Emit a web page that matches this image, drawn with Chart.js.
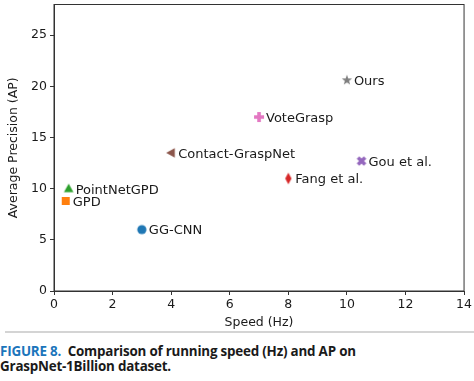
<!DOCTYPE html>
<html>
<head>
<meta charset="utf-8">
<script src="https://cdn.jsdelivr.net/npm/chart.js@4.4.1/dist/chart.umd.min.js"></script>
<style>
  body { margin: 0; background: #fff; width: 474px; height: 381px; overflow: hidden; position: relative; }
  #wrap { position: absolute; left: 0; top: -6px; width: 474px; height: 336px; }
  #sep { position: absolute; left: 5px; top: 331px; width: 469px; height: 2px; background: #d4d4d4; }
  #caption { position: absolute; left: 0; top: 344px; font-family: "Open Sans", sans-serif; font-weight: bold;
             font-size: 13.4px; line-height: 15px; color: #1a1a1a; letter-spacing: -0.2px; }
  #caption .fig { color: #1b75bb; }
</style>
</head>
<body>
<div id="wrap"><canvas id="apChart"></canvas></div>
<div id="sep"></div>
<div id="caption"><span class="fig">FIGURE 8.</span>&nbsp; Comparison of running speed (Hz) and AP on<br>GraspNet-1Billion dataset.</div>
<script>
// Data
const methods = ['GG-CNN', 'GPD', 'PointNetGPD', 'Contact-GraspNet', 'VoteGrasp', 'Ours', 'Gou et al.', 'Fang et al.'];
const speeds = [3.0, 0.4, 0.5, 4.0, 7.0, 10.0, 10.5, 8.0];
const aps = [6.0, 8.8, 10.0, 13.5, 17.0, 20.6, 12.7, 11.0];
const colors = ['#1f77b4', '#ff7f0e', '#2ca02c', '#8c564b', '#e377c2', '#7f7f7f', '#9467bd', '#d62728'];
const shapes = ['circle', 'square', 'triUp', 'triLeft', 'plus', 'star', 'x', 'thinDiamond'];

// Build matplotlib-like filled markers as small canvases
function makeMarker(shape, color) {
    const c = document.createElement('canvas');
    c.width = 14; c.height = 14;
    const g = c.getContext('2d');
    g.translate(7, 7);
    g.fillStyle = color;
    g.beginPath();
    if (shape === 'circle') {
        g.arc(0, 0, 4.6, 0, Math.PI * 2);
    } else if (shape === 'square') {
        g.rect(-4, -4, 8, 8);
    } else if (shape === 'triUp') {
        g.moveTo(0, -5); g.lineTo(4.8, 3.6); g.lineTo(-4.8, 3.6);
    } else if (shape === 'triLeft') {
        g.moveTo(-5, 0); g.lineTo(3.6, -4.8); g.lineTo(3.6, 4.8);
    } else if (shape === 'thinDiamond') {
        g.moveTo(0, -5.8); g.lineTo(3.2, 0); g.lineTo(0, 5.8); g.lineTo(-3.2, 0);
    } else if (shape === 'plus' || shape === 'x') {
        if (shape === 'x') g.rotate(Math.PI / 4);
        const a = 1.8, l = 5;
        g.moveTo(-a, -l); g.lineTo(a, -l); g.lineTo(a, -a); g.lineTo(l, -a); g.lineTo(l, a);
        g.lineTo(a, a); g.lineTo(a, l); g.lineTo(-a, l); g.lineTo(-a, a); g.lineTo(-l, a);
        g.lineTo(-l, -a); g.lineTo(-a, -a);
    } else if (shape === 'star') {
        for (let i = 0; i < 10; i++) {
            const r = i % 2 === 0 ? 5.4 : 2.2;
            const ang = -Math.PI / 2 + i * Math.PI / 5;
            g.lineTo(r * Math.cos(ang), r * Math.sin(ang));
        }
    }
    g.closePath();
    g.fill();
    return c;
}

const datasets = methods.map((m, i) => ({
    label: m,
    data: [{ x: speeds[i], y: aps[i] }],
    pointStyle: makeMarker(shapes[i], colors[i]),
    pointRadius: 7,
    backgroundColor: colors[i],
    borderColor: colors[i]
}));

// Text labels next to each marker, plus the full frame
const labelPlugin = {
    id: 'pointLabels',
    afterDatasetsDraw(chart) {
        const ctx = chart.ctx;
        ctx.save();
        ctx.font = '13px "DejaVu Sans"';
        ctx.fillStyle = '#1a1a1a';
        ctx.textBaseline = 'middle';
        chart.data.datasets.forEach((ds, i) => {
            const pt = chart.getDatasetMeta(i).data[0];
            ctx.fillText(ds.label, pt.x + 7, pt.y + 1.5);
        });
        const a = chart.chartArea;
        ctx.strokeStyle = '#333';
        ctx.lineWidth = 1;
        ctx.strokeRect(a.left, a.top, a.right - a.left, a.bottom - a.top);
        ctx.restore();
    }
};

const tickFont = { family: 'DejaVu Sans', size: 12.5 };

new Chart(document.getElementById('apChart'), {
    type: 'scatter',
    data: { datasets },
    plugins: [labelPlugin],
    options: {
        responsive: true,
        maintainAspectRatio: false,
        animation: false,
        layout: { padding: { top: 3, right: 9, left: 0, bottom: 0 } },
        plugins: { legend: { display: false }, tooltip: { enabled: false } },
        scales: {
            x: {
                min: 0, max: 14,
                ticks: { stepSize: 2, color: '#1a1a1a', font: tickFont, padding: 2, maxRotation: 0 },
                grid: { drawOnChartArea: false, drawTicks: true, tickLength: 4, color: '#333' },
                border: { color: '#333' },
                title: { display: true, text: 'Speed (Hz)', color: '#1a1a1a', font: tickFont, padding: 0 },
                afterFit: s => { s.height = 39; }
            },
            y: {
                min: 0, max: 28,
                ticks: { stepSize: 5, color: '#1a1a1a', font: tickFont, padding: 3,
                         callback: v => (v % 5 === 0 ? v : null) },
                grid: { drawOnChartArea: false, drawTicks: true, tickLength: 4, color: '#333' },
                border: { color: '#333' },
                title: { display: true, text: 'Average Precision (AP)', color: '#1a1a1a', font: tickFont,
                         padding: { top: 6, bottom: 2 } },
                afterFit: s => { s.width = 54; }
            }
        }
    }
});
</script>
</body>
</html>
